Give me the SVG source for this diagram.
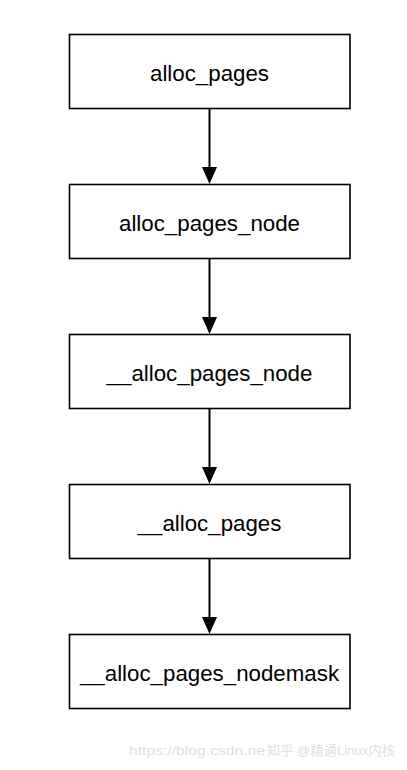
<svg xmlns="http://www.w3.org/2000/svg" width="407" height="770" viewBox="0 0 407 770">
<style>
.box{fill:#fff;stroke:#000;stroke-width:1.6}
.lbl{font-family:"Liberation Sans",Arial,sans-serif;font-size:22.3px;fill:#000;text-anchor:middle}
.edge{stroke:#000;stroke-width:2;fill:none}
.wm{font-family:"Liberation Sans","Noto Sans CJK SC",sans-serif;font-size:13px;fill:#e0e0e0}
</style>
<defs>
<marker id="ah" markerWidth="15" markerHeight="17" refX="7.5" refY="17" orient="auto-start-reverse" markerUnits="userSpaceOnUse" viewBox="0 0 15 17">
<path d="M0,0 L15,0 L7.5,17 Z" fill="#000"/>
</marker>
</defs>
<rect width="407" height="770" fill="#fff"/>
<g id="connectors">
<line class="edge" x1="209.5" y1="109" x2="209.5" y2="170"/>
<path d="M202,167 L217,167 L209.5,184 Z" fill="#000"/>
<line class="edge" x1="209.5" y1="259" x2="209.5" y2="320"/>
<path d="M202,317 L217,317 L209.5,334 Z" fill="#000"/>
<line class="edge" x1="209.5" y1="409" x2="209.5" y2="470"/>
<path d="M202,467 L217,467 L209.5,484 Z" fill="#000"/>
<line class="edge" x1="209.5" y1="559" x2="209.5" y2="620"/>
<path d="M202,617 L217,617 L209.5,634 Z" fill="#000"/>
</g>
<g id="n1"><rect class="box" x="69.5" y="34.5" width="280.5" height="74"/><text class="lbl" x="209.5" y="81">alloc_pages</text></g>
<g id="n2"><rect class="box" x="69.5" y="184.5" width="280.5" height="74"/><text class="lbl" x="209.5" y="231">alloc_pages_node</text></g>
<g id="n3"><rect class="box" x="69.5" y="334.5" width="280.5" height="74"/><text class="lbl" x="209.5" y="381">__alloc_pages_node</text></g>
<g id="n4"><rect class="box" x="69.5" y="484.5" width="280.5" height="74"/><text class="lbl" x="209.5" y="531">__alloc_pages</text></g>
<g id="n5"><rect class="box" x="69.5" y="634.5" width="280.5" height="74"/><text class="lbl" x="209.5" y="681">__alloc_pages_nodemask</text></g>
<text class="wm" x="129" y="755" textLength="136" lengthAdjust="spacingAndGlyphs">https://blog.csdn.ne</text>
<text class="wm" x="267" y="755" textLength="128" lengthAdjust="spacingAndGlyphs">知乎 @精通Linux内核</text>
</svg>
